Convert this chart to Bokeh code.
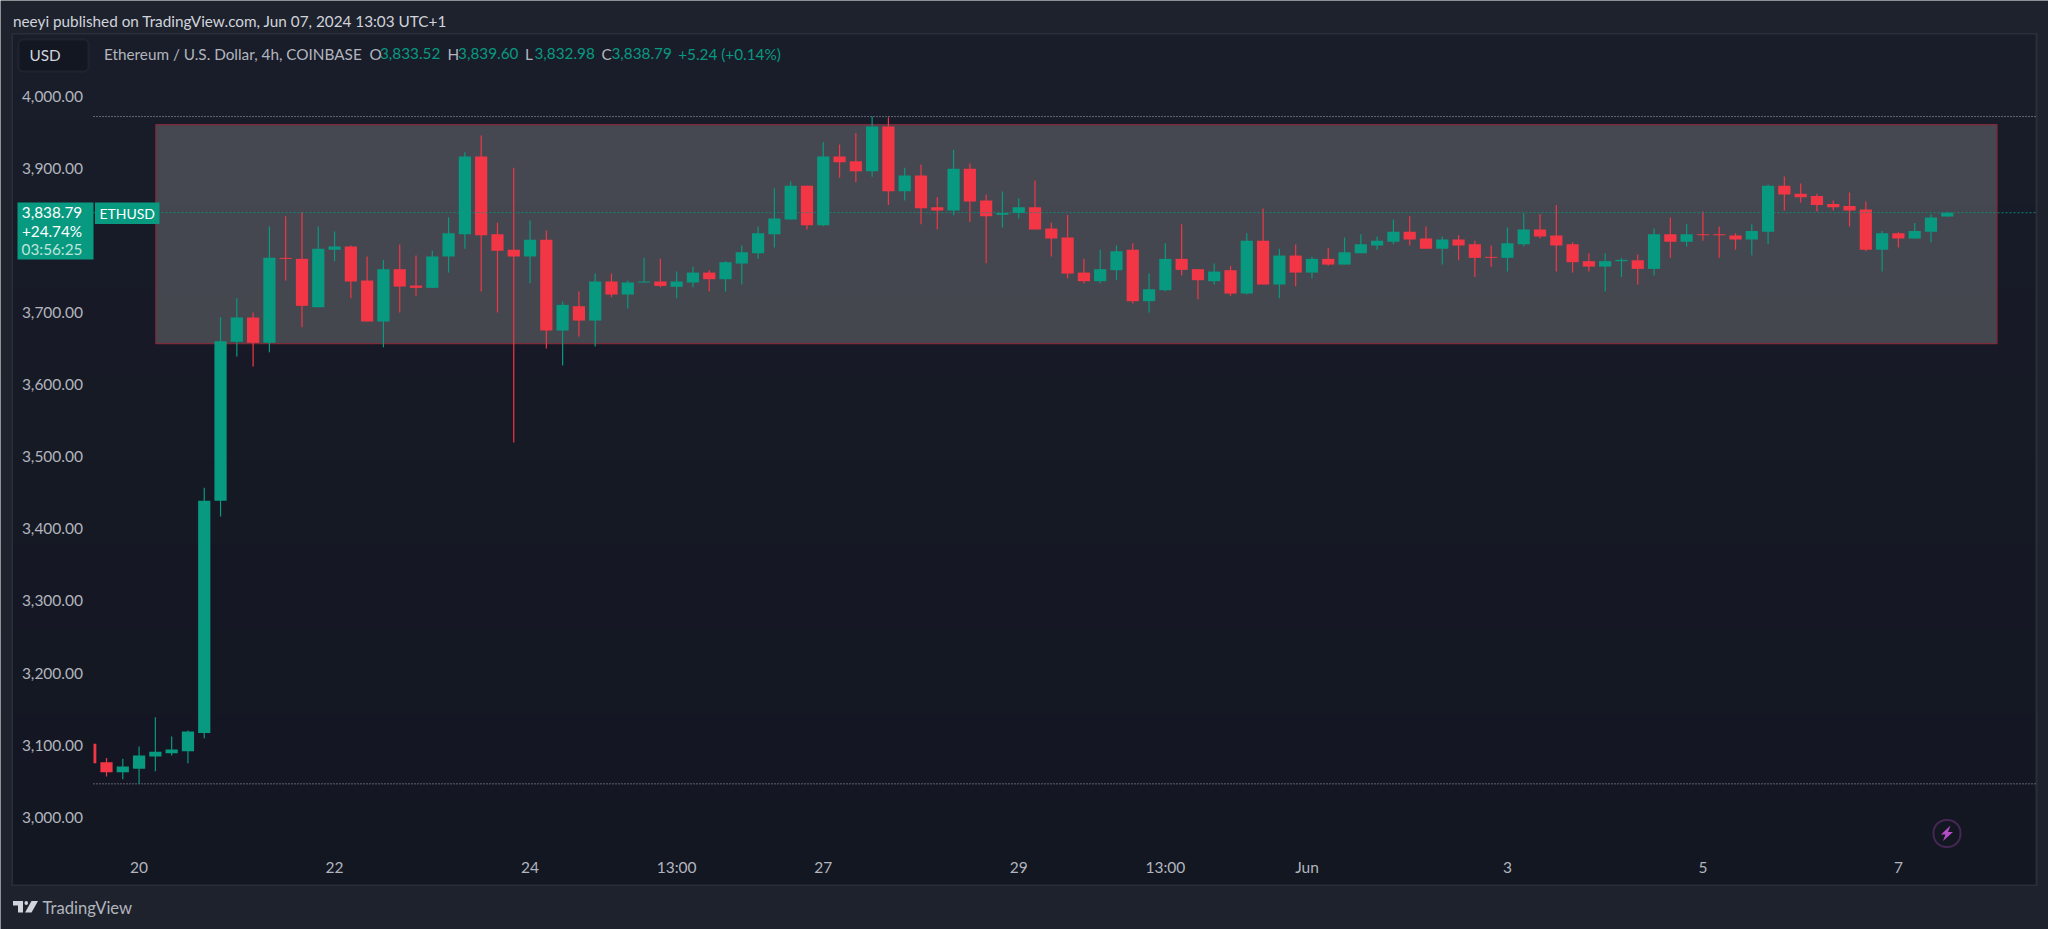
from bokeh.plotting import figure
from bokeh.models import (BoxAnnotation, Label, PolyAnnotation, FixedTicker, NumeralTickFormatter, Range1d)
from bokeh.embed import file_html
from bokeh.resources import INLINE

# ---------- data (ETH/USD 4h candles; index -1 is the clipped first bar) ----------
bar_index = list(range(-1, 114))
opens = [3101.8,3076.3,3062.5,3067.1,3084.2,3088.8,3091.6,3117,3439,3659.6,3693.3,3658.2,3776.1,3774.7,3707.6,3787.2,
 3791.8,3744.7,3687.8,3760.4,3737.7,3734.5,3778,3808.9,3916.7,3808.9,3787.2,3778,3801.1,3675.3,3709,3689.1,3743.3,
 3725.2,3741.9,3743.3,3735.9,3741.9,3755.7,3746.5,3768.2,3782.6,3808.9,3829.3,3876,3821.4,3916.7,3910.2,3896.4,3958.3,
 3868.6,3890.3,3846.4,3841.8,3899.6,3855.7,3835.8,3838.5,3846.4,3816.8,3804.3,3755.7,3743.7,3759,3787.2,3716,3731.2,
 3774.7,3760.4,3743.7,3759,3726.6,3799.7,3739.1,3779.3,3755.7,3774.7,3766.8,3782.6,3793.2,3798.3,3812.2,3802.9,3788.6,
 3801.5,3795,3777.5,3776.1,3795,3815.4,3807.1,3795,3771.5,3764,3771.5,3772.8,3760.8,3808.9,3798.3,3808.9,3808.9,3807.1,
 3801.5,3812.2,3876,3864.9,3862.1,3851,3848.2,3843.1,3787.2,3810.3,3802.9,3812.2,3833.52]
highs = [3102,3082.3,3081,3098.1,3138.8,3111.9,3120.3,3457,3693.8,3720.1,3700.2,3819.6,3833.9,3839.9,3819.6,3812.6,
 3793.2,3778,3773.3,3794.6,3779.3,3785.8,3832.5,3922.7,3945.8,3824.7,3901,3827.9,3814,3715.5,3729.4,3754.4,3754.4,
 3744.7,3776.1,3774.7,3757.1,3763.6,3759,3771.5,3793.2,3819.6,3872.8,3882,3876,3937,3933.4,3949.5,3972.2,3971.3,3901,
 3905.6,3860.3,3926,3907,3864,3868.1,3858.9,3883.4,3824.7,3835.7,3774.7,3787.2,3793.2,3796.4,3754.3,3796.4,3822.8,
 3760.4,3768.2,3765,3810.3,3844.5,3788.6,3794.6,3777.5,3790,3804.3,3808.9,3805.7,3829.3,3833.9,3819.6,3805.7,3807.5,
 3799.7,3793.2,3818.2,3838,3836.7,3849.6,3797.8,3782.6,3782.6,3776.1,3780.7,3816.8,3832,3823.3,3840.4,3819.6,3810.3,
 3822.8,3877.8,3888.9,3879.2,3864.9,3855.6,3866.7,3854.2,3813.5,3811.7,3824.6,3836.7,3839.6]
lows = [3075,3056.4,3052.8,3046.3,3063.9,3085.6,3075,3109.6,3417.2,3639.2,3625.3,3645.2,3744.7,3679.9,3707.6,3771.5,
 3720.1,3687.8,3652,3700.3,3723.4,3734.5,3755.7,3788.6,3729.4,3700.3,3520,3740.9,3650.3,3626.7,3667,3653,3721.5,3705.8,
 3741.9,3735.4,3720.1,3735.4,3729.4,3729.4,3739.1,3774.7,3790.4,3829.3,3815.4,3820,3887.1,3881.1,3888.5,3849.6,3855.7,
 3822.8,3815.4,3835.3,3826,3768.7,3818.2,3830.7,3815.4,3778,3747.9,3740.5,3740.5,3745.1,3712.7,3700.2,3729.8,3751.6,
 3718.7,3739.1,3723.4,3725.2,3739.1,3720.1,3736.8,3747.9,3765,3766.8,3782.6,3787.2,3795,3793.2,3788.6,3766.8,3772.8,
 3749.7,3763.6,3757.1,3791.8,3802.9,3757.1,3755.7,3757.1,3729.4,3749.7,3739.1,3751.6,3776.1,3791.8,3799.7,3776.1,3787.2,
 3779.3,3795,3841.8,3852.9,3840.4,3841.8,3819.6,3785.3,3757.1,3790.4,3802.9,3797.8,3832.98]
closes = [3075,3062.5,3070.3,3085.6,3090.7,3093.9,3118.9,3439,3660.5,3693.3,3658.2,3776.1,3774.7,3709.5,3788.6,3791.8,
 3743.3,3687.8,3760.4,3736.3,3734.5,3778,3810.3,3916.7,3807.6,3785.8,3778,3801.1,3675.3,3710.9,3689.1,3743.3,3725.2,
 3741.9,3743.3,3737.2,3743.3,3755.7,3746.5,3770.1,3784,3810.3,3830.7,3876,3821.4,3916.7,3908.8,3896.4,3958.3,3868.6,
 3890.3,3845,3841.8,3899.6,3854.3,3833.9,3838.5,3846.4,3815.4,3802.9,3754.3,3743.7,3760.4,3785.3,3716,3732.6,3774.7,
 3759.4,3745.1,3757.1,3726.6,3799.7,3739.1,3779.3,3755.7,3774.7,3766.8,3784,3795,3799.7,3812.2,3801.5,3788.6,3801.5,
 3793.2,3776.1,3776.1,3796.4,3815.4,3805.7,3793.2,3770.1,3764,3771.5,3773.3,3760.8,3808.9,3798.3,3808.9,3807.5,3807.5,
 3801.5,3813.5,3876,3864,3860.3,3849.6,3846.4,3841.8,3787.2,3810.3,3802.9,3813.5,3832,3838.79]
price_ticks = [3000, 3100, 3200, 3300, 3400, 3500, 3600, 3700, 3800, 3900, 4000]
time_tick_bars = [2, 14, 26, 35, 44, 56, 65, 73.7, 86, 98, 110]
time_tick_labels = ["20", "22", "24", "13:00", "27", "29", "13:00", "Jun", "3", "5", "7"]
range_high, range_low = 3961.0, 3657.0
range_start, range_end = 3.03, 116.05
session_high, session_low = 3972.2, 3046.3
last_price = 3838.79

# ---------- pixel helpers (window px -> chart units) ----------
W, H = 2048, 929
BAR0, BAR_STEP = 106.0, 16.29
Y3000, PX_PER_USD = 816.7, 0.7207
dx = lambda px: (px - BAR0) / BAR_STEP
dy = lambda py: 3000 + (Y3000 - py) / PX_PER_USD
sx = lambda px: px
sy = lambda py: H - py

OUTER, BORDER = "#1e222d", "#2a2e39"
UP, DOWN = "#089981", "#f23645"
TXT, FONT = "#b2b5be", "Lato"

p = figure(width=W, height=H, output_backend="svg", toolbar_location=None,
           x_range=Range1d(dx(0), dx(W)), y_range=Range1d(dy(H), dy(0)),
           min_border=0, min_border_left=0, min_border_right=0, min_border_top=0, min_border_bottom=0,
           background_fill_color=OUTER, border_fill_color=OUTER, outline_line_color=None)
p.grid.visible = False


def box(l, r, t, b, fill, line=None, lw=1, level="annotation", radius=0, falpha=1.0):
    a = BoxAnnotation(left=sx(l), right=sx(r), top=sy(t), bottom=sy(b),
                      left_units="screen", right_units="screen", top_units="screen", bottom_units="screen",
                      fill_color=fill, fill_alpha=falpha, line_color=line, line_width=lw, level=level,
                      border_radius=radius)
    p.add_layout(a)
    return a


def text(x, y, s, color=TXT, size=15.3, align="left", weight="normal"):
    p.add_layout(Label(x=sx(x), y=sy(y), x_units="screen", y_units="screen", text=s, text_color=color,
                       text_font=FONT, text_font_size=f"{size}px", text_align=align,
                       text_baseline="middle", text_font_style=weight))


# pane with its soft vertical shading
box(11, 2037, 32.5, 885.5, BORDER, level="underlay")
shades = ["#191d2a", "#181c29", "#171b27", "#171a26", "#161a25", "#151924", "#151824", "#141823", "#141723", "#131722"]
band_h = (884 - 34) / len(shades)
for k, c in enumerate(shades):
    box(12.5, 2035, 34 + k * band_h, 34 + (k + 1) * band_h + (1 if k < 9 else 0), c, level="underlay")

# consolidation range
p.quad(left=[range_start], right=[range_end], top=[range_high], bottom=[range_low],
       fill_color="#7c7e80", fill_alpha=0.45, line_color="#7f2a3a", line_width=1.3)

# session high / low dotted lines
for level_value in (session_high, session_low):
    p.line([dx(93), dx(2035)], [level_value, level_value], line_color="#a8abb3", line_width=1,
           line_dash=[1, 2], line_alpha=1.0)

# candles
colors = [UP if c >= o else DOWN for o, c in zip(opens, closes)]
p.segment(bar_index, lows, bar_index, highs, color=colors, line_width=1.2)
p.vbar(x=bar_index, top=[max(o, c) for o, c in zip(opens, closes)], bottom=[min(o, c) for o, c in zip(opens, closes)],
       width=0.75, fill_color=colors, line_color=None)

# mask that clips the first bar at the left of the plotting area
p.quad(left=[dx(76)], right=[dx(93)], top=[dy(735)], bottom=[dy(775)], fill_color="#131722", line_color=None)

# last price line
p.line([dx(93), dx(2035)], [last_price, last_price], line_color=UP, line_width=1, line_dash=[2, 2], line_alpha=0.8)

# axes: real axes placed inside the pane
p.yaxis.fixed_location = dx(91.5)
p.yaxis.ticker = FixedTicker(ticks=price_ticks)
p.yaxis.formatter = NumeralTickFormatter(format="0,0.00")
p.xaxis.fixed_location = dy(848)
p.xaxis.ticker = FixedTicker(ticks=time_tick_bars)
p.xaxis.major_label_overrides = dict(zip(time_tick_bars, time_tick_labels))
for ax in (p.xaxis, p.yaxis):
    ax.axis_line_color = None
    ax.major_tick_line_color = None
    ax.minor_tick_line_color = None
    ax.major_label_text_color = TXT
    ax.major_label_text_font = FONT
    ax.major_label_text_font_size = "15.5px"
    ax.major_label_standoff = 3

# header
text(12.5, 20, "neeyi published on TradingView.com, Jun 07, 2024 13:03 UTC+1", color="#d1d4dc")
box(18, 88, 39, 71, "#131722", line="#363a45", lw=2, radius=5)
text(29, 54, "USD", color="#d1d4dc")
text(103.5, 53, "Ethereum / U.S. Dollar, 4h, COINBASE")
for lx, letter, vx, val in [(369, "O", 379.5, "3,833.52"), (447, "H", 457.6, "3,839.60"),
                            (524.5, "L", 534, "3,832.98"), (601, "C", 611, "3,838.79")]:
    text(lx, 53, letter)
    text(vx, 53, val, color=UP)
text(677.7, 53, "+5.24 (+0.14%)", color=UP)

# price tags
box(17, 93, 202, 259, UP)
text(51.5, 212, "3,838.79", color="#ffffff", align="center")
text(51.5, 230, "+24.74%", color="#ffffff", align="center")
text(51.5, 248, "03:56:25", color="#bfe5dc", align="center")
box(94.5, 159, 202, 223.5, UP)
text(126.7, 213, "ETHUSD", color="#ffffff", align="center", size=14)

# bolt badge
box(1933, 1960, 819.5, 846.5, None, line="#b54dc8", lw=2, radius=13)
p.add_layout(PolyAnnotation(
    xs=[sx(v) for v in (1950, 1940.5, 1945, 1942.5, 1952.5, 1947.5)],
    ys=[sy(v) for v in (825, 834, 834, 840.5, 831.5, 831.5)],
    xs_units="screen", ys_units="screen", fill_color="#b54dc8", fill_alpha=1, line_color=None))

# footer logo
LOGO = "#d1d4dc"
p.add_layout(PolyAnnotation(xs=[sx(v) for v in (12.5, 22.5, 22.5, 17.5, 17.5, 12.5)],
                            ys=[sy(v) for v in (900.5, 900.5, 912, 912, 905, 905)],
                            xs_units="screen", ys_units="screen", fill_color=LOGO, fill_alpha=1, line_color=None))
box(24, 27.5, 900.5, 904.5, LOGO, radius=2)
p.add_layout(PolyAnnotation(xs=[sx(v) for v in (31, 37.5, 31, 24.5)],
                            ys=[sy(v) for v in (900.5, 900.5, 912, 912)],
                            xs_units="screen", ys_units="screen", fill_color=LOGO, fill_alpha=1, line_color=None))
text(42, 907, "TradingView", color="#b2b5be", size=16.6)

open("out.html", "w").write(file_html(p, INLINE))
